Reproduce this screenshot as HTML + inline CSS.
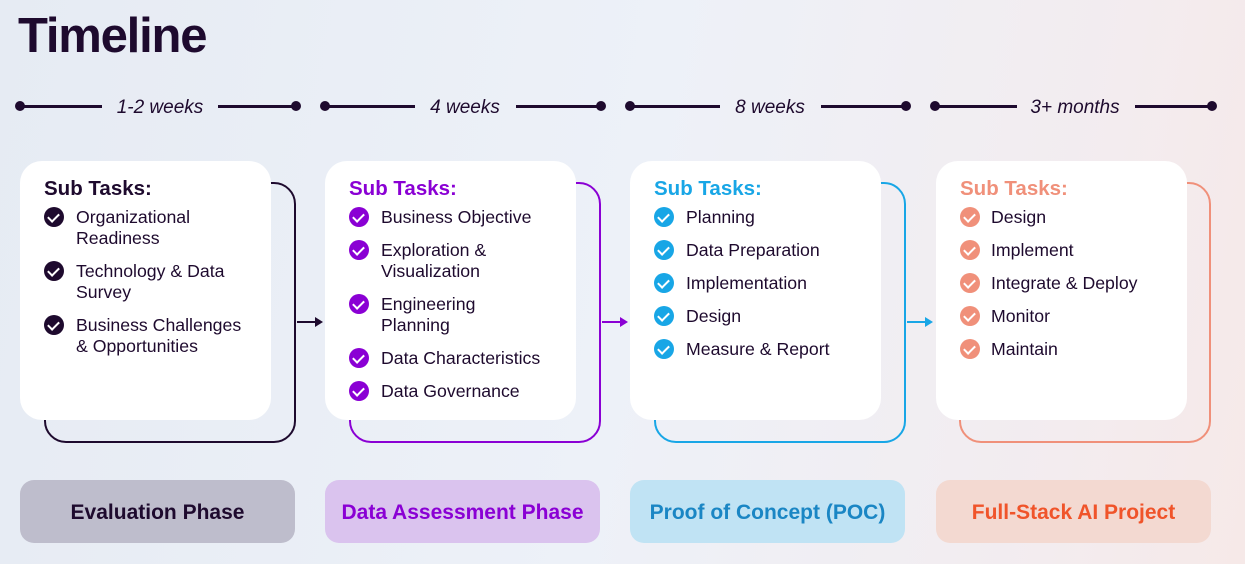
<!DOCTYPE html>
<html><head><meta charset="utf-8"><style>
*{margin:0;padding:0;box-sizing:border-box}
body{width:1245px;height:564px;overflow:hidden;font-family:"Liberation Sans",sans-serif;background:linear-gradient(100deg,#e6ebf3 0%,#edf1f8 50%,#f3ecef 85%,#f6e9e8 100%);position:relative;color:#1e0a2e}
h1{position:absolute;left:18px;top:8px;font-size:49px;font-weight:bold;letter-spacing:-1.2px;color:#1e0a2e}
.tl{position:absolute;top:105px;height:3px;background:#1e0a2e}
.dot{position:absolute;top:101px;width:10px;height:10px;border-radius:50%;background:#1e0a2e}
.tlab{position:absolute;top:97px;font-size:19px;font-style:italic;text-align:center;width:110px;color:#1e0a2e}
.card{position:absolute;top:161px;width:251px;height:259px;background:#fff;border-radius:22px}
.out{position:absolute;top:182px;width:252px;height:261px;border:2.5px solid;border-radius:22px}
.st{position:absolute;top:177px;font-size:20.5px;font-weight:bold}
.it{position:absolute;font-size:17.7px;line-height:21px;color:#1e0a2e}
.ck{position:absolute;width:20px;height:20px;border-radius:50%}
.ck::after{content:"";position:absolute;left:6px;top:4px;width:5px;height:9px;border:solid #fff;border-width:0 2.5px 2.5px 0;transform:rotate(45deg)}
.ph{position:absolute;top:480px;width:275px;height:63px;border-radius:14px;font-size:21px;font-weight:bold;text-align:center;line-height:66px}
.arr{position:absolute;top:321px;width:24px;height:2px}
.arr::after{content:"";position:absolute;right:-2px;top:-4px;border-left:8px solid;border-left-color:inherit;border-top:5px solid transparent;border-bottom:5px solid transparent}
</style></head><body>
<h1>Timeline</h1>

<div class="dot" style="left:15px"></div><div class="tl" style="left:18px;width:84px"></div><div class="tlab" style="left:105px">1-2 weeks</div><div class="tl" style="left:218px;width:78px"></div><div class="dot" style="left:291px"></div>
<div class="dot" style="left:320px"></div><div class="tl" style="left:323px;width:92px"></div><div class="tlab" style="left:410px">4 weeks</div><div class="tl" style="left:516px;width:85px"></div><div class="dot" style="left:596px"></div>
<div class="dot" style="left:625px"></div><div class="tl" style="left:628px;width:92px"></div><div class="tlab" style="left:715px">8 weeks</div><div class="tl" style="left:821px;width:85px"></div><div class="dot" style="left:901px"></div>
<div class="dot" style="left:930px"></div><div class="tl" style="left:933px;width:84px"></div><div class="tlab" style="left:1020px;width:110px">3+ months</div><div class="tl" style="left:1135px;width:76px"></div><div class="dot" style="left:1207px"></div>

<div class="out" style="left:44px;border-color:#1e0a2e"></div>
<div class="out" style="left:349px;border-color:#8a00d4"></div>
<div class="out" style="left:654px;border-color:#18a6e6"></div>
<div class="out" style="left:959px;border-color:#f0907a"></div>

<div class="arr" style="left:297px;background:#1e0a2e;border-color:#1e0a2e"></div>
<div class="arr" style="left:602px;background:#8a00d4;border-color:#8a00d4"></div>
<div class="arr" style="left:907px;background:#18a6e6;border-color:#18a6e6"></div>

<div class="card" style="left:20px"></div>
<div class="card" style="left:325px"></div>
<div class="card" style="left:630px"></div>
<div class="card" style="left:936px"></div>

<div class="st" style="left:44px;color:#1e0a2e">Sub Tasks:</div>
<div class="ck" style="left:44px;top:207px;background:#1e0a2e"></div><div class="it" style="left:76px;top:207px">Organizational<br>Readiness</div>
<div class="ck" style="left:44px;top:261px;background:#1e0a2e"></div><div class="it" style="left:76px;top:261px">Technology &amp; Data<br>Survey</div>
<div class="ck" style="left:44px;top:315px;background:#1e0a2e"></div><div class="it" style="left:76px;top:315px">Business Challenges<br>&amp; Opportunities</div>

<div class="st" style="left:349px;color:#8a00d4">Sub Tasks:</div>
<div class="ck" style="left:349px;top:207px;background:#8a00d4"></div><div class="it" style="left:381px;top:207px">Business Objective</div>
<div class="ck" style="left:349px;top:240px;background:#8a00d4"></div><div class="it" style="left:381px;top:240px">Exploration &amp;<br>Visualization</div>
<div class="ck" style="left:349px;top:294px;background:#8a00d4"></div><div class="it" style="left:381px;top:294px">Engineering<br>Planning</div>
<div class="ck" style="left:349px;top:348px;background:#8a00d4"></div><div class="it" style="left:381px;top:348px">Data Characteristics</div>
<div class="ck" style="left:349px;top:381px;background:#8a00d4"></div><div class="it" style="left:381px;top:381px">Data Governance</div>

<div class="st" style="left:654px;color:#18a6e6">Sub Tasks:</div>
<div class="ck" style="left:654px;top:207px;background:#18a6e6"></div><div class="it" style="left:686px;top:207px">Planning</div>
<div class="ck" style="left:654px;top:240px;background:#18a6e6"></div><div class="it" style="left:686px;top:240px">Data Preparation</div>
<div class="ck" style="left:654px;top:273px;background:#18a6e6"></div><div class="it" style="left:686px;top:273px">Implementation</div>
<div class="ck" style="left:654px;top:306px;background:#18a6e6"></div><div class="it" style="left:686px;top:306px">Design</div>
<div class="ck" style="left:654px;top:339px;background:#18a6e6"></div><div class="it" style="left:686px;top:339px">Measure &amp; Report</div>

<div class="st" style="left:960px;color:#f0907a">Sub Tasks:</div>
<div class="ck" style="left:960px;top:207px;background:#f0907a"></div><div class="it" style="left:991px;top:207px">Design</div>
<div class="ck" style="left:960px;top:240px;background:#f0907a"></div><div class="it" style="left:991px;top:240px">Implement</div>
<div class="ck" style="left:960px;top:273px;background:#f0907a"></div><div class="it" style="left:991px;top:273px">Integrate &amp; Deploy</div>
<div class="ck" style="left:960px;top:306px;background:#f0907a"></div><div class="it" style="left:991px;top:306px">Monitor</div>
<div class="ck" style="left:960px;top:339px;background:#f0907a"></div><div class="it" style="left:991px;top:339px">Maintain</div>

<div class="ph" style="left:20px;background:#bebdcc;color:#1e0a2e">Evaluation Phase</div>
<div class="ph" style="left:325px;background:#dac3ee;color:#8a00d4">Data Assessment Phase</div>
<div class="ph" style="left:630px;background:#c0e3f4;color:#1a86c4">Proof of Concept (POC)</div>
<div class="ph" style="left:936px;background:#f3d9d1;color:#f0542a">Full-Stack AI Project</div>
</body></html>
